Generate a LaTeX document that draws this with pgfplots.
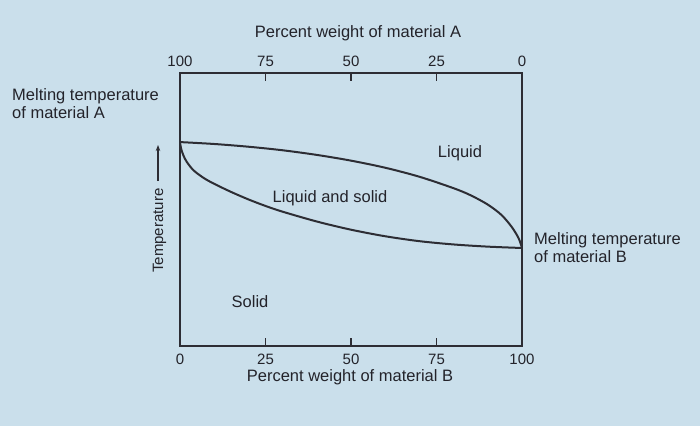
\documentclass[border=0pt]{standalone}
\usepackage{pgfplots}
\pgfplotsset{compat=1.18}
\usepackage{fontspec}
\setmainfont{Liberation Sans}
\usetikzlibrary{arrows.meta}
\definecolor{bgc}{RGB}{202,223,235}
\definecolor{txt}{RGB}{35,35,42}
\definecolor{lnc}{RGB}{45,45,52}
\begin{document}
\begin{tikzpicture}[x=1pt,y=1pt]
\fill[bgc] (0,0) rectangle (700,-426);
\pgfplotsset{every axis/.append style={
  at={(180pt,-346pt)}, anchor=south west, scale only axis,
  width=342pt, height=273pt, xmin=0, xmax=100, ymin=0, ymax=100,
  ytick=\empty, axis line style={lnc, line width=2pt},
  tick align=inside, major tick length=8pt,
  tick style={lnc, line width=1.6pt},
  ticklabel style={font=\fontsize{15}{16}\selectfont, text=txt},
  /pgf/number format/assume math mode=true}}
\begin{axis}[xtick={0,25,50,75,100}, xtick pos=bottom,
  xticklabel style={anchor=base, yshift=-18pt}]
\addplot[smooth, lnc, line width=2pt] coordinates {
(0,74.7) (10,74.0) (20,73.0) (30,71.7) (40,70.0) (50,67.9) (60,65.3) (70,62.0) (80,57.8) (85,55.2) (90,51.8) (94,48.0) (97,43.6) (99,39.5) (100,35.9)};
\addplot[smooth, lnc, line width=2pt] coordinates {
(0,74.7) (0.3,72.4) (1,69.8) (2,67.4) (4,64.3) (7,61.5) (10,59.4) (15,56.4) (20,53.7) (25,51.3) (30,49.2) (40,45.6) (50,42.6) (60,40.2) (70,38.4) (80,37.2) (90,36.4) (100,35.9)};
\end{axis}
\begin{axis}[xtick={0,25,50,75,100}, xticklabels={100,75,50,25,0},
  xtick pos=top, xticklabel pos=top,
  xticklabel style={anchor=base, yshift=7pt}]
\end{axis}
\begin{scope}[every node/.style={font=\fontsize{16.5}{18}\selectfont, text=txt, inner sep=0pt}]
\node[anchor=base] at (358,-37) {Percent weight of material A};
\node[anchor=base] at (350,-381) {Percent weight of material B};
\node[anchor=base west] at (12,-100) {Melting temperature};
\node[anchor=base west] at (12,-118) {of material A};
\node[anchor=base west] at (534,-244) {Melting temperature};
\node[anchor=base west] at (534,-262) {of material B};
\node[anchor=base] at (460,-157) {Liquid};
\node[anchor=base] at (330,-202) {Liquid and solid};
\node[anchor=base] at (250,-307) {Solid};
\node[anchor=base west, rotate=90, font=\fontsize{15}{16}\selectfont] at (163,-273) {Temperature};
\end{scope}
\draw[lnc, line width=1.2pt, -{Stealth[length=6pt,width=4.5pt]}] (158,-181) -- (158,-145);
\end{tikzpicture}
\end{document}
